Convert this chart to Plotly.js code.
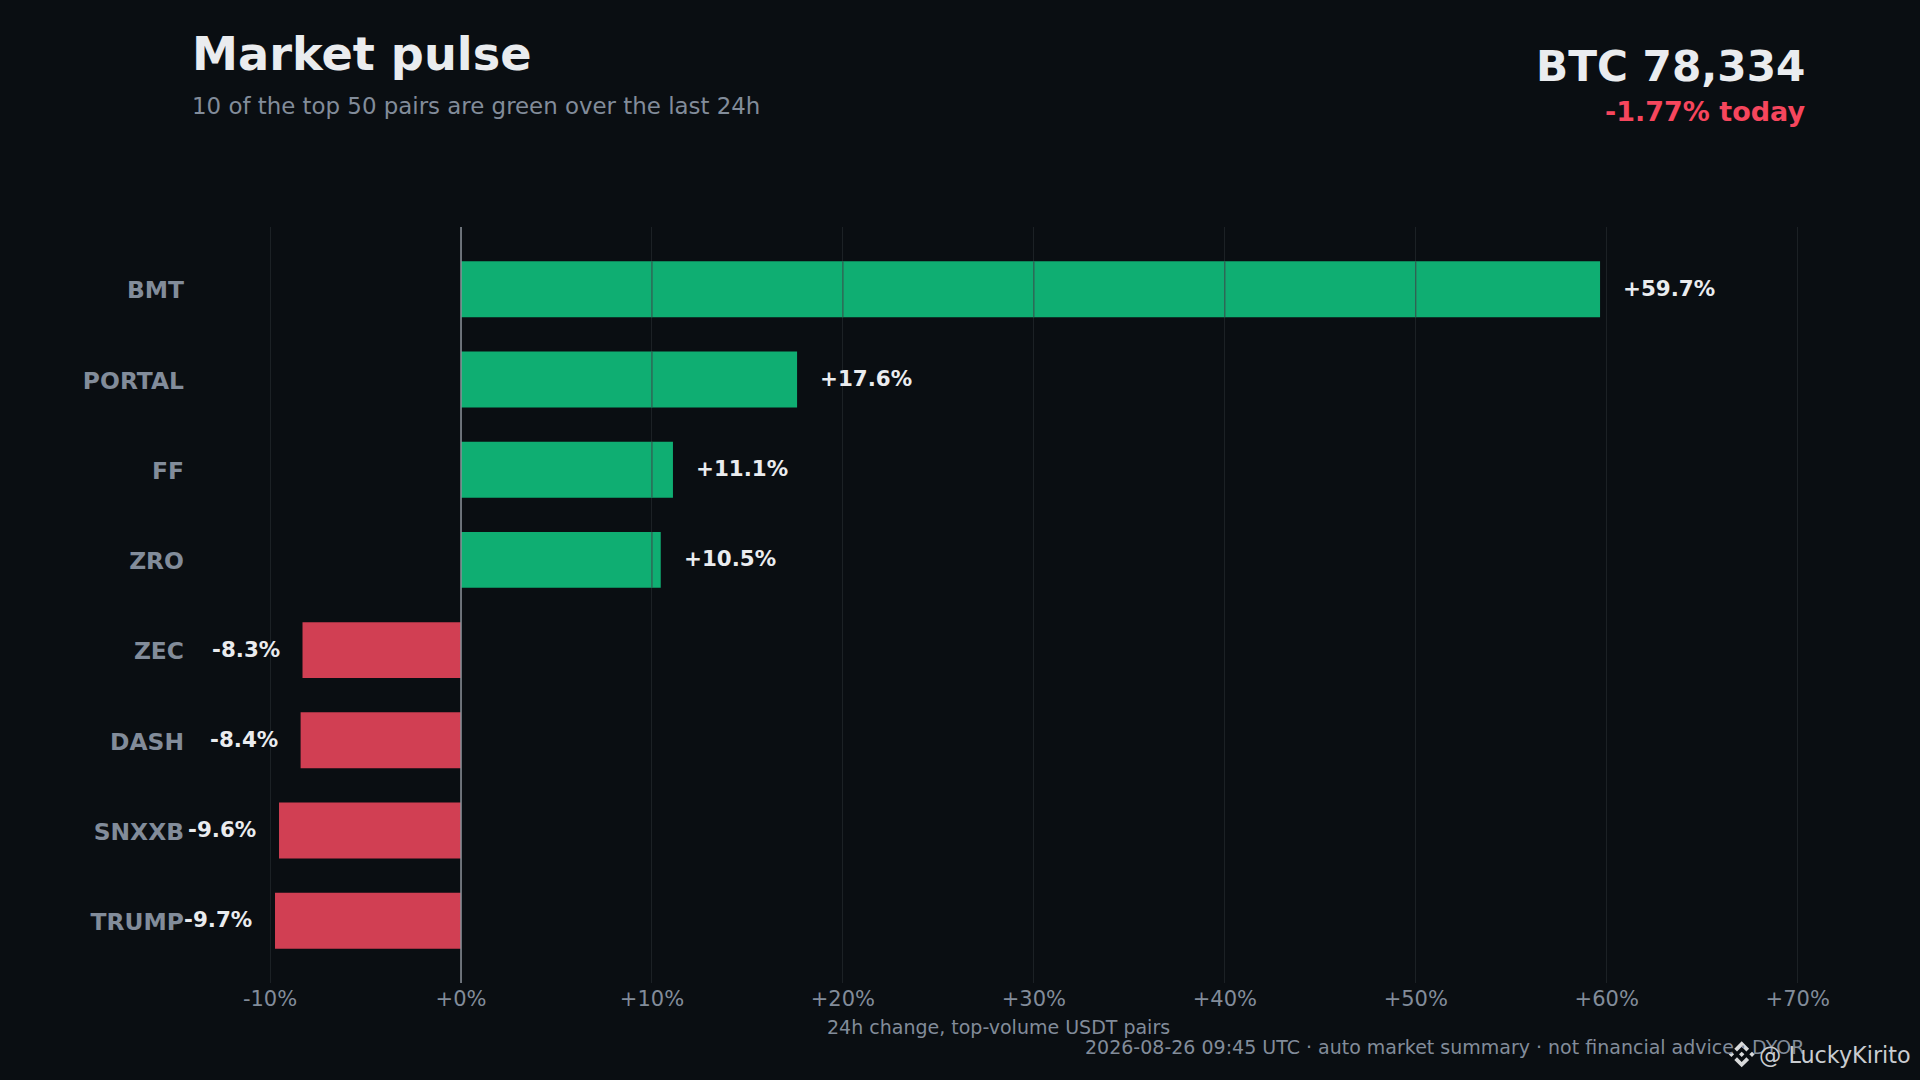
<!DOCTYPE html>
<html>
<head>
<meta charset="utf-8">
<script src="https://cdn.plot.ly/plotly-3.0.1.min.js"></script>
<style>
    html, body { margin: 0; padding: 0; background: #0a0e12; }
</style>
</head>
<body>
<div id="plot" style="width:1920px;height:1080px"></div>
<script>
const symbols = ['BMT', 'PORTAL', 'FF', 'ZRO', 'ZEC', 'DASH', 'SNXXB', 'TRUMP'];
const changes = [59.65, 17.6, 11.1, 10.46, -8.3, -8.4, -9.53, -9.74];
const changeLabels = ['+59.7%', '+17.6%', '+11.1%', '+10.5%', '-8.3%', '-8.4%', '-9.6%', '-9.7%'];
const tickVals = [-10, 0, 10, 20, 30, 40, 50, 60, 70];
const tickLabels = ['-10%', '+0%', '+10%', '+20%', '+30%', '+40%', '+50%', '+60%', '+70%'];

const GREEN = '#0fae72';
const RED = '#d13f53';
const GREY = '#828c9a';
const WHITE = '#eaecef';
const FONT = '"DejaVu Sans", sans-serif';

// plot box in page pixels
const box = { left: 192, right: 1804, top: 227, bottom: 982.7 };
const px = x => (x - box.left) / (box.right - box.left);
const py = y => (box.bottom - y) / (box.bottom - box.top);

function pageText(text, x, y, size, color, anchor, bold) {
    return {
        text: text, showarrow: false, xref: 'paper', yref: 'paper',
        x: px(x), y: py(y), xanchor: anchor, yanchor: 'middle',
        borderpad: 0,
        font: { family: FONT, size: size, color: color, weight: bold ? 'bold' : 'normal' }
    };
}

const annotations = [
    pageText('Market pulse', 191, 54.5, 46.2, WHITE, 'left', true),
    pageText('10 of the top 50 pairs are green over the last 24h', 191, 106, 22.9, GREY, 'left'),
    pageText('BTC 78,334', 1806, 66.5, 42.2, WHITE, 'right', true),
    pageText('-1.77% today', 1805.5, 112, 27, '#f6465d', 'right', true),
    pageText('24h change, top-volume USDT pairs', 998, 1026.5, 19, GREY, 'center'),
    pageText('2026-08-26 09:45 UTC · auto market summary · not financial advice · DYOR', 1805, 1046.5, 19, GREY, 'right'),
    pageText('@ LuckyKirito', 1911.5, 1055, 22.3, '#c9ccd0', 'right', false)
];

// value labels next to the bars
symbols.forEach((s, i) => {
    const v = changes[i];
    annotations.push({
        text: changeLabels[i],
        x: v, y: i, xref: 'x', yref: 'y', showarrow: false,
        xanchor: v > 0 ? 'left' : 'right', yanchor: 'middle',
        xshift: v > 0 ? 22 : -22, yshift: 1, borderpad: 0,
        font: { family: FONT, size: 21.4, color: WHITE, weight: 'bold' }
    });
});

const shapes = [];
// gridlines show through on top of the bars, a bit lighter
tickVals.forEach(t => {
    if (t <= 0) return;
    changes.forEach((v, i) => {
        if (v > t) {
            shapes.push({
                type: 'line', xref: 'x', yref: 'y', layer: 'above',
                x0: t, x1: t, y0: i - 0.31, y1: i + 0.31,
                line: { color: '#3e4749', width: 1 }
            });
        }
    });
});
// zero line
shapes.push({
    type: 'line', xref: 'x', yref: 'paper', layer: 'above',
    x0: 0, x1: 0, y0: 0, y1: 1,
    line: { color: '#8a9099', width: 1.5 }
});
// binance logo next to the watermark
shapes.push({
    type: 'path', xref: 'paper', yref: 'paper', layer: 'above',
    xsizemode: 'pixel', ysizemode: 'pixel',
    xanchor: px(1741.7), yanchor: py(1054),
    path: 'M-7.4,5.6 L0,13 L7.4,5.6 L4.7,2.9 L0,7.6 L-4.7,2.9 Z ' +
          'M-7.4,-5.6 L0,-13 L7.4,-5.6 L4.7,-2.9 L0,-7.6 L-4.7,-2.9 Z ' +
          'M-13,0 L-10.3,2.7 L-7.6,0 L-10.3,-2.7 Z ' +
          'M13,0 L10.3,2.7 L7.6,0 L10.3,-2.7 Z ' +
          'M-2.7,0 L0,2.7 L2.7,0 L0,-2.7 Z',
    fillcolor: '#d9dadb', line: { width: 0 }
});

Plotly.newPlot('plot', [{
    type: 'bar',
    orientation: 'h',
    x: changes,
    y: symbols.map((s, i) => i),
    width: 0.62,
    marker: { color: changes.map(v => v > 0 ? GREEN : RED), line: { width: 0 } },
    hoverinfo: 'skip'
}], {
    width: 1920,
    height: 1080,
    paper_bgcolor: '#0a0e12',
    plot_bgcolor: '#0a0e12',
    showlegend: false,
    margin: { l: box.left, r: 1920 - box.right, t: box.top, b: 1080 - box.bottom, pad: 0 },
    xaxis: {
        range: [-14.087, 70.33],
        tickvals: tickVals,
        ticktext: tickLabels,
        tickfont: { family: FONT, size: 21, color: GREY },
        ticks: '',
        ticklabelstandoff: 1,
        showgrid: true,
        gridcolor: '#1c2125',
        gridwidth: 1,
        zeroline: false,
        showline: false,
        automargin: false
    },
    yaxis: {
        range: [7.69, -0.69],
        tickvals: symbols.map((s, i) => i),
        ticktext: symbols,
        tickfont: { family: FONT, size: 23.4, color: GREY, weight: 'bold' },
        ticks: '',
        ticklabelstandoff: 7,
        ticklabelshift: -1,
        showgrid: false,
        zeroline: false,
        showline: false,
        automargin: false
    },
    annotations: annotations,
    shapes: shapes
}, { displayModeBar: false });
</script>
</body>
</html>
